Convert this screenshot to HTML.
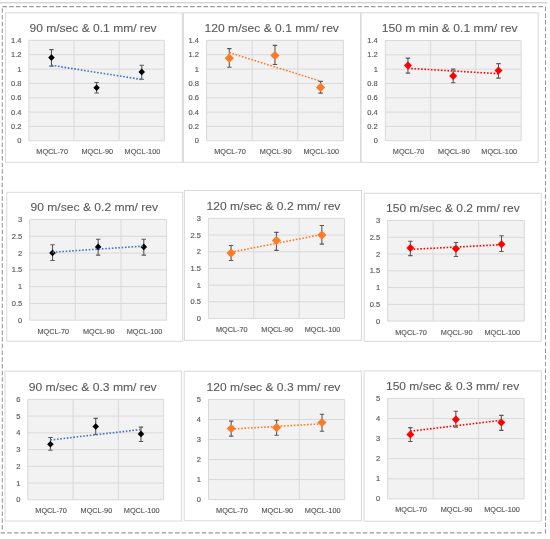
<!DOCTYPE html>
<html><head><meta charset="utf-8"><style>
html,body{margin:0;padding:0;background:#fff;width:550px;height:539px;overflow:hidden}
svg{display:block;will-change:transform}
text{font-family:"Liberation Sans",sans-serif;fill:#595959}
.t{font-size:7.3px}
.yt{font-size:7.5px}
.yt{stroke:#595959;stroke-width:0.15px}
.t{stroke:#595959;stroke-width:0.15px}
.ti{font-size:11.8px;stroke:#595959;stroke-width:0.1px}
</style></head><body>
<svg width="550" height="539" viewBox="0 0 550 539">
<rect width="550" height="539" fill="#fff"/>

<line x1="0" y1="2.8" x2="547.6" y2="2.8" stroke="#c2c2c2" stroke-width="1"/>
<line x1="2.5" y1="6.6" x2="544" y2="6.6" stroke="#9a9a9a" stroke-width="1.1" stroke-dasharray="4.5 2.2"/>
<line x1="2.3" y1="8.3" x2="2.3" y2="529.8" stroke="#9a9a9a" stroke-width="1.1" stroke-dasharray="4.5 2.21"/>
<line x1="545.5" y1="6.7" x2="545.5" y2="533.8" stroke="#9a9a9a" stroke-width="1.1" stroke-dasharray="4.5 2.2"/>
<line x1="0.6" y1="532.9" x2="542.7" y2="532.9" stroke="#9a9a9a" stroke-width="1.1" stroke-dasharray="4.5 2.208"/>

<rect x="5.5" y="12.9" width="176.8" height="149.4" fill="#fff" stroke="#d9d9d9" stroke-width="1"/>
<rect x="28.9" y="40.35" width="135.4" height="100.45" fill="#f2f2f2"/>
<line x1="28.9" y1="140.8" x2="164.3" y2="140.8" stroke="#d9d9d9" stroke-width="1"/>
<text transform="translate(21.4 143.26)" text-anchor="end" class="yt">0</text>
<line x1="28.9" y1="126.45" x2="164.3" y2="126.45" stroke="#d9d9d9" stroke-width="1"/>
<text transform="translate(21.4 128.91)" text-anchor="end" class="yt">0.2</text>
<line x1="28.9" y1="112.1" x2="164.3" y2="112.1" stroke="#d9d9d9" stroke-width="1"/>
<text transform="translate(21.4 114.56)" text-anchor="end" class="yt">0.4</text>
<line x1="28.9" y1="97.75" x2="164.3" y2="97.75" stroke="#d9d9d9" stroke-width="1"/>
<text transform="translate(21.4 100.21)" text-anchor="end" class="yt">0.6</text>
<line x1="28.9" y1="83.4" x2="164.3" y2="83.4" stroke="#d9d9d9" stroke-width="1"/>
<text transform="translate(21.4 85.86)" text-anchor="end" class="yt">0.8</text>
<line x1="28.9" y1="69.05" x2="164.3" y2="69.05" stroke="#d9d9d9" stroke-width="1"/>
<text transform="translate(21.4 71.51)" text-anchor="end" class="yt">1</text>
<line x1="28.9" y1="54.7" x2="164.3" y2="54.7" stroke="#d9d9d9" stroke-width="1"/>
<text transform="translate(21.4 57.16)" text-anchor="end" class="yt">1.2</text>
<line x1="28.9" y1="40.35" x2="164.3" y2="40.35" stroke="#d9d9d9" stroke-width="1"/>
<text transform="translate(21.4 42.81)" text-anchor="end" class="yt">1.4</text>
<line x1="28.9" y1="40.35" x2="28.9" y2="140.8" stroke="#d9d9d9" stroke-width="1"/>
<line x1="74.03" y1="40.35" x2="74.03" y2="140.8" stroke="#d9d9d9" stroke-width="1"/>
<line x1="119.17" y1="40.35" x2="119.17" y2="140.8" stroke="#d9d9d9" stroke-width="1"/>
<line x1="164.3" y1="40.35" x2="164.3" y2="140.8" stroke="#d9d9d9" stroke-width="1"/>
<text x="52.17" y="154.33" text-anchor="middle" class="t">MQCL-70</text>
<text x="97.3" y="154.33" text-anchor="middle" class="t">MQCL-90</text>
<text x="142.43" y="154.33" text-anchor="middle" class="t">MQCL-100</text>
<text x="29.5" y="31.6" class="ti" textLength="127.1" lengthAdjust="spacingAndGlyphs">90 m/sec &amp; 0.1 mm/ rev</text>
<path d="M51.47 49.6V66.1M49.27 49.6H53.67M49.27 66.1H53.67" stroke="#595959" stroke-width="1.1" fill="none"/>
<path d="M96.6 82.5V93M94.4 82.5H98.8M94.4 93H98.8" stroke="#595959" stroke-width="1.1" fill="none"/>
<path d="M141.73 65.3V79.3M139.53 65.3H143.93M139.53 79.3H143.93" stroke="#595959" stroke-width="1.1" fill="none"/>
<path d="M51.47 54.3L54.77 57.6L51.47 60.9L48.17 57.6Z" fill="#000000"/>
<path d="M96.6 84.4L99.9 87.7L96.6 91L93.3 87.7Z" fill="#000000"/>
<path d="M141.73 68.6L145.03 71.9L141.73 75.2L138.43 71.9Z" fill="#000000"/>
<line x1="51.47" y1="65.3" x2="141.73" y2="79.5" stroke="#4472c4" stroke-width="1.6" stroke-dasharray="1.6 1.7"/>
<rect x="183.4" y="12.9" width="177.2" height="149.4" fill="#fff" stroke="#d9d9d9" stroke-width="1"/>
<rect x="206.5" y="40.35" width="136.9" height="100.45" fill="#f2f2f2"/>
<line x1="206.5" y1="140.8" x2="343.4" y2="140.8" stroke="#d9d9d9" stroke-width="1"/>
<text transform="translate(199 143.26)" text-anchor="end" class="yt">0</text>
<line x1="206.5" y1="126.45" x2="343.4" y2="126.45" stroke="#d9d9d9" stroke-width="1"/>
<text transform="translate(199 128.91)" text-anchor="end" class="yt">0.2</text>
<line x1="206.5" y1="112.1" x2="343.4" y2="112.1" stroke="#d9d9d9" stroke-width="1"/>
<text transform="translate(199 114.56)" text-anchor="end" class="yt">0.4</text>
<line x1="206.5" y1="97.75" x2="343.4" y2="97.75" stroke="#d9d9d9" stroke-width="1"/>
<text transform="translate(199 100.21)" text-anchor="end" class="yt">0.6</text>
<line x1="206.5" y1="83.4" x2="343.4" y2="83.4" stroke="#d9d9d9" stroke-width="1"/>
<text transform="translate(199 85.86)" text-anchor="end" class="yt">0.8</text>
<line x1="206.5" y1="69.05" x2="343.4" y2="69.05" stroke="#d9d9d9" stroke-width="1"/>
<text transform="translate(199 71.51)" text-anchor="end" class="yt">1</text>
<line x1="206.5" y1="54.7" x2="343.4" y2="54.7" stroke="#d9d9d9" stroke-width="1"/>
<text transform="translate(199 57.16)" text-anchor="end" class="yt">1.2</text>
<line x1="206.5" y1="40.35" x2="343.4" y2="40.35" stroke="#d9d9d9" stroke-width="1"/>
<text transform="translate(199 42.81)" text-anchor="end" class="yt">1.4</text>
<line x1="206.5" y1="40.35" x2="206.5" y2="140.8" stroke="#d9d9d9" stroke-width="1"/>
<line x1="252.13" y1="40.35" x2="252.13" y2="140.8" stroke="#d9d9d9" stroke-width="1"/>
<line x1="297.77" y1="40.35" x2="297.77" y2="140.8" stroke="#d9d9d9" stroke-width="1"/>
<line x1="343.4" y1="40.35" x2="343.4" y2="140.8" stroke="#d9d9d9" stroke-width="1"/>
<text x="230.02" y="154.33" text-anchor="middle" class="t">MQCL-70</text>
<text x="275.65" y="154.33" text-anchor="middle" class="t">MQCL-90</text>
<text x="321.28" y="154.33" text-anchor="middle" class="t">MQCL-100</text>
<text x="204.6" y="31.6" class="ti" textLength="134.3" lengthAdjust="spacingAndGlyphs">120 m/sec &amp; 0.1 mm/ rev</text>
<path d="M229.32 48.6V67.2M227.12 48.6H231.52M227.12 67.2H231.52" stroke="#595959" stroke-width="1.1" fill="none"/>
<path d="M274.95 45.4V64.5M272.75 45.4H277.15M272.75 64.5H277.15" stroke="#595959" stroke-width="1.1" fill="none"/>
<path d="M320.58 81.4V93.1M318.38 81.4H322.78M318.38 93.1H322.78" stroke="#595959" stroke-width="1.1" fill="none"/>
<path d="M229.32 53.6L233.92 58.2L229.32 62.8L224.72 58.2Z" fill="#fc7b24"/>
<path d="M274.95 50.9L279.55 55.5L274.95 60.1L270.35 55.5Z" fill="#fc7b24"/>
<path d="M320.58 82.8L325.18 87.4L320.58 92L315.98 87.4Z" fill="#fc7b24"/>
<line x1="229.32" y1="52.6" x2="320.58" y2="81.2" stroke="#fc7b24" stroke-width="1.6" stroke-dasharray="1.6 1.7"/>
<rect x="361.1" y="12.9" width="177.1" height="149.5" fill="#fff" stroke="#d9d9d9" stroke-width="1"/>
<rect x="385.3" y="40.5" width="135.8" height="100.2" fill="#f2f2f2"/>
<line x1="385.3" y1="140.7" x2="521.1" y2="140.7" stroke="#d9d9d9" stroke-width="1"/>
<text transform="translate(377.8 143.16)" text-anchor="end" class="yt">0</text>
<line x1="385.3" y1="126.39" x2="521.1" y2="126.39" stroke="#d9d9d9" stroke-width="1"/>
<text transform="translate(377.8 128.85)" text-anchor="end" class="yt">0.2</text>
<line x1="385.3" y1="112.07" x2="521.1" y2="112.07" stroke="#d9d9d9" stroke-width="1"/>
<text transform="translate(377.8 114.53)" text-anchor="end" class="yt">0.4</text>
<line x1="385.3" y1="97.76" x2="521.1" y2="97.76" stroke="#d9d9d9" stroke-width="1"/>
<text transform="translate(377.8 100.22)" text-anchor="end" class="yt">0.6</text>
<line x1="385.3" y1="83.44" x2="521.1" y2="83.44" stroke="#d9d9d9" stroke-width="1"/>
<text transform="translate(377.8 85.91)" text-anchor="end" class="yt">0.8</text>
<line x1="385.3" y1="69.13" x2="521.1" y2="69.13" stroke="#d9d9d9" stroke-width="1"/>
<text transform="translate(377.8 71.59)" text-anchor="end" class="yt">1</text>
<line x1="385.3" y1="54.81" x2="521.1" y2="54.81" stroke="#d9d9d9" stroke-width="1"/>
<text transform="translate(377.8 57.28)" text-anchor="end" class="yt">1.2</text>
<line x1="385.3" y1="40.5" x2="521.1" y2="40.5" stroke="#d9d9d9" stroke-width="1"/>
<text transform="translate(377.8 42.96)" text-anchor="end" class="yt">1.4</text>
<line x1="385.3" y1="40.5" x2="385.3" y2="140.7" stroke="#d9d9d9" stroke-width="1"/>
<line x1="430.57" y1="40.5" x2="430.57" y2="140.7" stroke="#d9d9d9" stroke-width="1"/>
<line x1="475.83" y1="40.5" x2="475.83" y2="140.7" stroke="#d9d9d9" stroke-width="1"/>
<line x1="521.1" y1="40.5" x2="521.1" y2="140.7" stroke="#d9d9d9" stroke-width="1"/>
<text x="408.63" y="154.23" text-anchor="middle" class="t">MQCL-70</text>
<text x="453.9" y="154.23" text-anchor="middle" class="t">MQCL-90</text>
<text x="499.17" y="154.23" text-anchor="middle" class="t">MQCL-100</text>
<text x="381.7" y="31.6" class="ti" textLength="135.8" lengthAdjust="spacingAndGlyphs">150 m min &amp; 0.1 mm/ rev</text>
<path d="M407.93 58.1V73.1M405.73 58.1H410.13M405.73 73.1H410.13" stroke="#595959" stroke-width="1.1" fill="none"/>
<path d="M453.2 69.1V82.7M451 69.1H455.4M451 82.7H455.4" stroke="#595959" stroke-width="1.1" fill="none"/>
<path d="M498.47 63.6V78.1M496.27 63.6H500.67M496.27 78.1H500.67" stroke="#595959" stroke-width="1.1" fill="none"/>
<path d="M407.93 61.5L411.93 65.5L407.93 69.5L403.93 65.5Z" fill="#ff0000"/>
<path d="M453.2 71.9L457.2 75.9L453.2 79.9L449.2 75.9Z" fill="#ff0000"/>
<path d="M498.47 66.5L502.47 70.5L498.47 74.5L494.47 70.5Z" fill="#ff0000"/>
<line x1="407.93" y1="68.3" x2="498.47" y2="73.7" stroke="#ff0000" stroke-width="1.6" stroke-dasharray="1.6 1.7"/>
<rect x="6.8" y="192.3" width="175.9" height="148.9" fill="#fff" stroke="#d9d9d9" stroke-width="1"/>
<rect x="29.7" y="219.5" width="136.9" height="100.7" fill="#f2f2f2"/>
<line x1="29.7" y1="320.2" x2="166.6" y2="320.2" stroke="#d9d9d9" stroke-width="1"/>
<text transform="translate(22.2 322.66)" text-anchor="end" class="yt">0</text>
<line x1="29.7" y1="303.42" x2="166.6" y2="303.42" stroke="#d9d9d9" stroke-width="1"/>
<text transform="translate(22.2 305.88)" text-anchor="end" class="yt">0.5</text>
<line x1="29.7" y1="286.63" x2="166.6" y2="286.63" stroke="#d9d9d9" stroke-width="1"/>
<text transform="translate(22.2 289.1)" text-anchor="end" class="yt">1</text>
<line x1="29.7" y1="269.85" x2="166.6" y2="269.85" stroke="#d9d9d9" stroke-width="1"/>
<text transform="translate(22.2 272.31)" text-anchor="end" class="yt">1.5</text>
<line x1="29.7" y1="253.07" x2="166.6" y2="253.07" stroke="#d9d9d9" stroke-width="1"/>
<text transform="translate(22.2 255.53)" text-anchor="end" class="yt">2</text>
<line x1="29.7" y1="236.28" x2="166.6" y2="236.28" stroke="#d9d9d9" stroke-width="1"/>
<text transform="translate(22.2 238.75)" text-anchor="end" class="yt">2.5</text>
<line x1="29.7" y1="219.5" x2="166.6" y2="219.5" stroke="#d9d9d9" stroke-width="1"/>
<text transform="translate(22.2 221.96)" text-anchor="end" class="yt">3</text>
<line x1="29.7" y1="219.5" x2="29.7" y2="320.2" stroke="#d9d9d9" stroke-width="1"/>
<line x1="75.33" y1="219.5" x2="75.33" y2="320.2" stroke="#d9d9d9" stroke-width="1"/>
<line x1="120.97" y1="219.5" x2="120.97" y2="320.2" stroke="#d9d9d9" stroke-width="1"/>
<line x1="166.6" y1="219.5" x2="166.6" y2="320.2" stroke="#d9d9d9" stroke-width="1"/>
<text x="53.22" y="333.73" text-anchor="middle" class="t">MQCL-70</text>
<text x="98.85" y="333.73" text-anchor="middle" class="t">MQCL-90</text>
<text x="144.48" y="333.73" text-anchor="middle" class="t">MQCL-100</text>
<text x="30.5" y="211" class="ti" textLength="127.6" lengthAdjust="spacingAndGlyphs">90 m/sec &amp; 0.2 mm/ rev</text>
<path d="M52.52 244.7V260.5M50.32 244.7H54.72M50.32 260.5H54.72" stroke="#595959" stroke-width="1.1" fill="none"/>
<path d="M98.15 239.3V255.1M95.95 239.3H100.35M95.95 255.1H100.35" stroke="#595959" stroke-width="1.1" fill="none"/>
<path d="M143.78 239.3V255.1M141.58 239.3H145.98M141.58 255.1H145.98" stroke="#595959" stroke-width="1.1" fill="none"/>
<path d="M52.52 249.6L55.82 252.9L52.52 256.2L49.22 252.9Z" fill="#000000"/>
<path d="M98.15 243.6L101.45 246.9L98.15 250.2L94.85 246.9Z" fill="#000000"/>
<path d="M143.78 243.6L147.08 246.9L143.78 250.2L140.48 246.9Z" fill="#000000"/>
<line x1="52.52" y1="252.2" x2="143.78" y2="246.1" stroke="#4472c4" stroke-width="1.6" stroke-dasharray="1.6 1.7"/>
<rect x="184.4" y="190.5" width="177.1" height="149.8" fill="#fff" stroke="#d9d9d9" stroke-width="1"/>
<rect x="208.4" y="218.4" width="136.1" height="100.1" fill="#f2f2f2"/>
<line x1="208.4" y1="318.5" x2="344.5" y2="318.5" stroke="#d9d9d9" stroke-width="1"/>
<text transform="translate(200.9 320.96)" text-anchor="end" class="yt">0</text>
<line x1="208.4" y1="301.82" x2="344.5" y2="301.82" stroke="#d9d9d9" stroke-width="1"/>
<text transform="translate(200.9 304.28)" text-anchor="end" class="yt">0.5</text>
<line x1="208.4" y1="285.13" x2="344.5" y2="285.13" stroke="#d9d9d9" stroke-width="1"/>
<text transform="translate(200.9 287.6)" text-anchor="end" class="yt">1</text>
<line x1="208.4" y1="268.45" x2="344.5" y2="268.45" stroke="#d9d9d9" stroke-width="1"/>
<text transform="translate(200.9 270.91)" text-anchor="end" class="yt">1.5</text>
<line x1="208.4" y1="251.77" x2="344.5" y2="251.77" stroke="#d9d9d9" stroke-width="1"/>
<text transform="translate(200.9 254.23)" text-anchor="end" class="yt">2</text>
<line x1="208.4" y1="235.08" x2="344.5" y2="235.08" stroke="#d9d9d9" stroke-width="1"/>
<text transform="translate(200.9 237.55)" text-anchor="end" class="yt">2.5</text>
<line x1="208.4" y1="218.4" x2="344.5" y2="218.4" stroke="#d9d9d9" stroke-width="1"/>
<text transform="translate(200.9 220.86)" text-anchor="end" class="yt">3</text>
<line x1="208.4" y1="218.4" x2="208.4" y2="318.5" stroke="#d9d9d9" stroke-width="1"/>
<line x1="253.77" y1="218.4" x2="253.77" y2="318.5" stroke="#d9d9d9" stroke-width="1"/>
<line x1="299.13" y1="218.4" x2="299.13" y2="318.5" stroke="#d9d9d9" stroke-width="1"/>
<line x1="344.5" y1="218.4" x2="344.5" y2="318.5" stroke="#d9d9d9" stroke-width="1"/>
<text x="231.78" y="332.03" text-anchor="middle" class="t">MQCL-70</text>
<text x="277.15" y="332.03" text-anchor="middle" class="t">MQCL-90</text>
<text x="322.52" y="332.03" text-anchor="middle" class="t">MQCL-100</text>
<text x="206.6" y="209.5" class="ti" textLength="133.8" lengthAdjust="spacingAndGlyphs">120 m/sec &amp; 0.2 mm/ rev</text>
<path d="M231.08 245.5V260.5M228.88 245.5H233.28M228.88 260.5H233.28" stroke="#595959" stroke-width="1.1" fill="none"/>
<path d="M276.45 232.4V250.4M274.25 232.4H278.65M274.25 250.4H278.65" stroke="#595959" stroke-width="1.1" fill="none"/>
<path d="M321.82 225.5V244.1M319.62 225.5H324.02M319.62 244.1H324.02" stroke="#595959" stroke-width="1.1" fill="none"/>
<path d="M231.08 248.5L235.68 253.1L231.08 257.7L226.48 253.1Z" fill="#fc7b24"/>
<path d="M276.45 235.9L281.05 240.5L276.45 245.1L271.85 240.5Z" fill="#fc7b24"/>
<path d="M321.82 230.5L326.42 235.1L321.82 239.7L317.22 235.1Z" fill="#fc7b24"/>
<line x1="231.08" y1="252.2" x2="321.82" y2="234.5" stroke="#fc7b24" stroke-width="1.6" stroke-dasharray="1.6 1.7"/>
<rect x="364.3" y="193.3" width="176.9" height="148" fill="#fff" stroke="#d9d9d9" stroke-width="1"/>
<rect x="387.6" y="220.5" width="136.7" height="100.6" fill="#f2f2f2"/>
<line x1="387.6" y1="321.1" x2="524.3" y2="321.1" stroke="#d9d9d9" stroke-width="1"/>
<text transform="translate(380.1 323.56)" text-anchor="end" class="yt">0</text>
<line x1="387.6" y1="304.33" x2="524.3" y2="304.33" stroke="#d9d9d9" stroke-width="1"/>
<text transform="translate(380.1 306.8)" text-anchor="end" class="yt">0.5</text>
<line x1="387.6" y1="287.57" x2="524.3" y2="287.57" stroke="#d9d9d9" stroke-width="1"/>
<text transform="translate(380.1 290.03)" text-anchor="end" class="yt">1</text>
<line x1="387.6" y1="270.8" x2="524.3" y2="270.8" stroke="#d9d9d9" stroke-width="1"/>
<text transform="translate(380.1 273.26)" text-anchor="end" class="yt">1.5</text>
<line x1="387.6" y1="254.03" x2="524.3" y2="254.03" stroke="#d9d9d9" stroke-width="1"/>
<text transform="translate(380.1 256.5)" text-anchor="end" class="yt">2</text>
<line x1="387.6" y1="237.27" x2="524.3" y2="237.27" stroke="#d9d9d9" stroke-width="1"/>
<text transform="translate(380.1 239.73)" text-anchor="end" class="yt">2.5</text>
<line x1="387.6" y1="220.5" x2="524.3" y2="220.5" stroke="#d9d9d9" stroke-width="1"/>
<text transform="translate(380.1 222.96)" text-anchor="end" class="yt">3</text>
<line x1="387.6" y1="220.5" x2="387.6" y2="321.1" stroke="#d9d9d9" stroke-width="1"/>
<line x1="433.17" y1="220.5" x2="433.17" y2="321.1" stroke="#d9d9d9" stroke-width="1"/>
<line x1="478.73" y1="220.5" x2="478.73" y2="321.1" stroke="#d9d9d9" stroke-width="1"/>
<line x1="524.3" y1="220.5" x2="524.3" y2="321.1" stroke="#d9d9d9" stroke-width="1"/>
<text x="411.08" y="334.63" text-anchor="middle" class="t">MQCL-70</text>
<text x="456.65" y="334.63" text-anchor="middle" class="t">MQCL-90</text>
<text x="502.22" y="334.63" text-anchor="middle" class="t">MQCL-100</text>
<text x="386" y="211.6" class="ti" textLength="133.8" lengthAdjust="spacingAndGlyphs">150 m/sec &amp; 0.2 mm/ rev</text>
<path d="M410.38 241.2V255.6M408.18 241.2H412.58M408.18 255.6H412.58" stroke="#595959" stroke-width="1.1" fill="none"/>
<path d="M455.95 242.5V256.5M453.75 242.5H458.15M453.75 256.5H458.15" stroke="#595959" stroke-width="1.1" fill="none"/>
<path d="M501.52 235.7V251.5M499.32 235.7H503.72M499.32 251.5H503.72" stroke="#595959" stroke-width="1.1" fill="none"/>
<path d="M410.38 244L414.38 248L410.38 252L406.38 248Z" fill="#ff0000"/>
<path d="M455.95 244.8L459.95 248.8L455.95 252.8L451.95 248.8Z" fill="#ff0000"/>
<path d="M501.52 240.2L505.52 244.2L501.52 248.2L497.52 244.2Z" fill="#ff0000"/>
<line x1="410.38" y1="249.4" x2="501.52" y2="244.7" stroke="#ff0000" stroke-width="1.6" stroke-dasharray="1.6 1.7"/>
<rect x="5" y="371.1" width="176.5" height="149.9" fill="#fff" stroke="#d9d9d9" stroke-width="1"/>
<rect x="27.8" y="399.35" width="135.8" height="100.45" fill="#f2f2f2"/>
<line x1="27.8" y1="499.8" x2="163.6" y2="499.8" stroke="#d9d9d9" stroke-width="1"/>
<text transform="translate(20.3 502.26)" text-anchor="end" class="yt">0</text>
<line x1="27.8" y1="483.06" x2="163.6" y2="483.06" stroke="#d9d9d9" stroke-width="1"/>
<text transform="translate(20.3 485.52)" text-anchor="end" class="yt">1</text>
<line x1="27.8" y1="466.32" x2="163.6" y2="466.32" stroke="#d9d9d9" stroke-width="1"/>
<text transform="translate(20.3 468.78)" text-anchor="end" class="yt">2</text>
<line x1="27.8" y1="449.58" x2="163.6" y2="449.58" stroke="#d9d9d9" stroke-width="1"/>
<text transform="translate(20.3 452.04)" text-anchor="end" class="yt">3</text>
<line x1="27.8" y1="432.83" x2="163.6" y2="432.83" stroke="#d9d9d9" stroke-width="1"/>
<text transform="translate(20.3 435.3)" text-anchor="end" class="yt">4</text>
<line x1="27.8" y1="416.09" x2="163.6" y2="416.09" stroke="#d9d9d9" stroke-width="1"/>
<text transform="translate(20.3 418.55)" text-anchor="end" class="yt">5</text>
<line x1="27.8" y1="399.35" x2="163.6" y2="399.35" stroke="#d9d9d9" stroke-width="1"/>
<text transform="translate(20.3 401.81)" text-anchor="end" class="yt">6</text>
<line x1="27.8" y1="399.35" x2="27.8" y2="499.8" stroke="#d9d9d9" stroke-width="1"/>
<line x1="73.07" y1="399.35" x2="73.07" y2="499.8" stroke="#d9d9d9" stroke-width="1"/>
<line x1="118.33" y1="399.35" x2="118.33" y2="499.8" stroke="#d9d9d9" stroke-width="1"/>
<line x1="163.6" y1="399.35" x2="163.6" y2="499.8" stroke="#d9d9d9" stroke-width="1"/>
<text x="51.13" y="513.33" text-anchor="middle" class="t">MQCL-70</text>
<text x="96.4" y="513.33" text-anchor="middle" class="t">MQCL-90</text>
<text x="141.67" y="513.33" text-anchor="middle" class="t">MQCL-100</text>
<text x="28.7" y="391" class="ti" textLength="128" lengthAdjust="spacingAndGlyphs">90 m/sec &amp; 0.3 mm/ rev</text>
<path d="M50.43 437.5V450.3M48.23 437.5H52.63M48.23 450.3H52.63" stroke="#595959" stroke-width="1.1" fill="none"/>
<path d="M95.7 418.4V434.5M93.5 418.4H97.9M93.5 434.5H97.9" stroke="#595959" stroke-width="1.1" fill="none"/>
<path d="M140.97 427.1V441.5M138.77 427.1H143.17M138.77 441.5H143.17" stroke="#595959" stroke-width="1.1" fill="none"/>
<path d="M50.43 441L53.73 444.3L50.43 447.6L47.13 444.3Z" fill="#000000"/>
<path d="M95.7 423.2L99 426.5L95.7 429.8L92.4 426.5Z" fill="#000000"/>
<path d="M140.97 430.6L144.27 433.9L140.97 437.2L137.67 433.9Z" fill="#000000"/>
<line x1="50.43" y1="440" x2="140.97" y2="429.5" stroke="#4472c4" stroke-width="1.6" stroke-dasharray="1.6 1.7"/>
<rect x="184.2" y="371.2" width="177.2" height="149.6" fill="#fff" stroke="#d9d9d9" stroke-width="1"/>
<rect x="208.5" y="399.5" width="136.2" height="100.1" fill="#f2f2f2"/>
<line x1="208.5" y1="499.6" x2="344.7" y2="499.6" stroke="#d9d9d9" stroke-width="1"/>
<text transform="translate(201 502.06)" text-anchor="end" class="yt">0</text>
<line x1="208.5" y1="479.58" x2="344.7" y2="479.58" stroke="#d9d9d9" stroke-width="1"/>
<text transform="translate(201 482.04)" text-anchor="end" class="yt">1</text>
<line x1="208.5" y1="459.56" x2="344.7" y2="459.56" stroke="#d9d9d9" stroke-width="1"/>
<text transform="translate(201 462.02)" text-anchor="end" class="yt">2</text>
<line x1="208.5" y1="439.54" x2="344.7" y2="439.54" stroke="#d9d9d9" stroke-width="1"/>
<text transform="translate(201 442)" text-anchor="end" class="yt">3</text>
<line x1="208.5" y1="419.52" x2="344.7" y2="419.52" stroke="#d9d9d9" stroke-width="1"/>
<text transform="translate(201 421.98)" text-anchor="end" class="yt">4</text>
<line x1="208.5" y1="399.5" x2="344.7" y2="399.5" stroke="#d9d9d9" stroke-width="1"/>
<text transform="translate(201 401.96)" text-anchor="end" class="yt">5</text>
<line x1="208.5" y1="399.5" x2="208.5" y2="499.6" stroke="#d9d9d9" stroke-width="1"/>
<line x1="253.9" y1="399.5" x2="253.9" y2="499.6" stroke="#d9d9d9" stroke-width="1"/>
<line x1="299.3" y1="399.5" x2="299.3" y2="499.6" stroke="#d9d9d9" stroke-width="1"/>
<line x1="344.7" y1="399.5" x2="344.7" y2="499.6" stroke="#d9d9d9" stroke-width="1"/>
<text x="231.9" y="513.13" text-anchor="middle" class="t">MQCL-70</text>
<text x="277.3" y="513.13" text-anchor="middle" class="t">MQCL-90</text>
<text x="322.7" y="513.13" text-anchor="middle" class="t">MQCL-100</text>
<text x="206.6" y="391" class="ti" textLength="133.8" lengthAdjust="spacingAndGlyphs">120 m/sec &amp; 0.3 mm/ rev</text>
<path d="M231.2 421.1V436.1M229 421.1H233.4M229 436.1H233.4" stroke="#595959" stroke-width="1.1" fill="none"/>
<path d="M276.6 420.3V435.3M274.4 420.3H278.8M274.4 435.3H278.8" stroke="#595959" stroke-width="1.1" fill="none"/>
<path d="M322 414.3V431.2M319.8 414.3H324.2M319.8 431.2H324.2" stroke="#595959" stroke-width="1.1" fill="none"/>
<path d="M231.2 423.9L235.8 428.5L231.2 433.1L226.6 428.5Z" fill="#fc7b24"/>
<path d="M276.6 423L281.2 427.6L276.6 432.2L272 427.6Z" fill="#fc7b24"/>
<path d="M322 417.9L326.6 422.5L322 427.1L317.4 422.5Z" fill="#fc7b24"/>
<line x1="231.2" y1="429" x2="322" y2="423.8" stroke="#fc7b24" stroke-width="1.6" stroke-dasharray="1.6 1.7"/>
<rect x="364.1" y="370.9" width="177.2" height="150.3" fill="#fff" stroke="#d9d9d9" stroke-width="1"/>
<rect x="387.6" y="398.35" width="136.5" height="100.55" fill="#f2f2f2"/>
<line x1="387.6" y1="498.9" x2="524.1" y2="498.9" stroke="#d9d9d9" stroke-width="1"/>
<text transform="translate(380.1 501.36)" text-anchor="end" class="yt">0</text>
<line x1="387.6" y1="478.79" x2="524.1" y2="478.79" stroke="#d9d9d9" stroke-width="1"/>
<text transform="translate(380.1 481.25)" text-anchor="end" class="yt">1</text>
<line x1="387.6" y1="458.68" x2="524.1" y2="458.68" stroke="#d9d9d9" stroke-width="1"/>
<text transform="translate(380.1 461.14)" text-anchor="end" class="yt">2</text>
<line x1="387.6" y1="438.57" x2="524.1" y2="438.57" stroke="#d9d9d9" stroke-width="1"/>
<text transform="translate(380.1 441.03)" text-anchor="end" class="yt">3</text>
<line x1="387.6" y1="418.46" x2="524.1" y2="418.46" stroke="#d9d9d9" stroke-width="1"/>
<text transform="translate(380.1 420.92)" text-anchor="end" class="yt">4</text>
<line x1="387.6" y1="398.35" x2="524.1" y2="398.35" stroke="#d9d9d9" stroke-width="1"/>
<text transform="translate(380.1 400.81)" text-anchor="end" class="yt">5</text>
<line x1="387.6" y1="398.35" x2="387.6" y2="498.9" stroke="#d9d9d9" stroke-width="1"/>
<line x1="433.1" y1="398.35" x2="433.1" y2="498.9" stroke="#d9d9d9" stroke-width="1"/>
<line x1="478.6" y1="398.35" x2="478.6" y2="498.9" stroke="#d9d9d9" stroke-width="1"/>
<line x1="524.1" y1="398.35" x2="524.1" y2="498.9" stroke="#d9d9d9" stroke-width="1"/>
<text x="411.05" y="512.43" text-anchor="middle" class="t">MQCL-70</text>
<text x="456.55" y="512.43" text-anchor="middle" class="t">MQCL-90</text>
<text x="502.05" y="512.43" text-anchor="middle" class="t">MQCL-100</text>
<text x="386" y="390.1" class="ti" textLength="133.2" lengthAdjust="spacingAndGlyphs">150 m/sec &amp; 0.3 mm/ rev</text>
<path d="M410.35 427.6V441.5M408.15 427.6H412.55M408.15 441.5H412.55" stroke="#595959" stroke-width="1.1" fill="none"/>
<path d="M455.85 411.3V427.1M453.65 411.3H458.05M453.65 427.1H458.05" stroke="#595959" stroke-width="1.1" fill="none"/>
<path d="M501.35 415.4V430.4M499.15 415.4H503.55M499.15 430.4H503.55" stroke="#595959" stroke-width="1.1" fill="none"/>
<path d="M410.35 430.5L414.35 434.5L410.35 438.5L406.35 434.5Z" fill="#ff0000"/>
<path d="M455.85 415.5L459.85 419.5L455.85 423.5L451.85 419.5Z" fill="#ff0000"/>
<path d="M501.35 418.5L505.35 422.5L501.35 426.5L497.35 422.5Z" fill="#ff0000"/>
<line x1="410.35" y1="431.2" x2="501.35" y2="420.3" stroke="#ff0000" stroke-width="1.6" stroke-dasharray="1.6 1.7"/>
</svg>
</body></html>
